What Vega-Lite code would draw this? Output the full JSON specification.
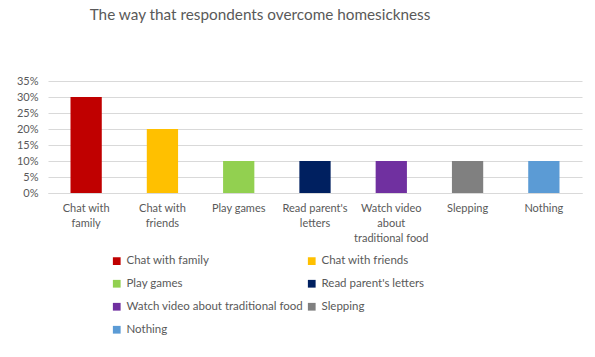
{
  "$schema": "https://vega.github.io/schema/vega-lite/v6.json",
  "autosize": "none",
  "width": 534,
  "height": 112,
  "padding": {"left": 48, "top": 81, "right": 13, "bottom": 164},
  "background": "white",
  "title": {
    "text": "The way that respondents overcome homesickness",
    "font": "Lato",
    "fontSize": 15.3,
    "fontWeight": "normal",
    "color": "#595959",
    "anchor": "middle",
    "dx": -55,
    "offset": 52
  },
  "data": {
    "values": [
      {"way": "Chat with family", "share": 0.30},
      {"way": "Chat with friends", "share": 0.20},
      {"way": "Play games", "share": 0.10},
      {"way": "Read parent's letters", "share": 0.10},
      {"way": "Watch video about traditional food", "share": 0.10},
      {"way": "Slepping", "share": 0.10},
      {"way": "Nothing", "share": 0.10}
    ]
  },
  "config": {
    "view": {"stroke": null},
    "font": "Lato"
  },
  "mark": {"type": "bar"},
  "encoding": {
    "x": {
      "field": "way",
      "type": "nominal",
      "sort": null,
      "scale": {"paddingInner": 0.59, "paddingOuter": 0.295},
      "axis": {
        "title": null,
        "labelAngle": 0,
        "labelColor": "#595959",
        "labelFontSize": 11,
        "labelFont": "Lato",
        "labelLineHeight": 15,
        "labelPadding": 9,
        "ticks": false,
        "domainColor": "#D9D9D9",
        "labelExpr": "datum.label == 'Chat with family' ? ['Chat with', 'family'] : datum.label == 'Chat with friends' ? ['Chat with', 'friends'] : datum.label == \"Read parent's letters\" ? [\"Read parent's\", 'letters'] : datum.label == 'Watch video about traditional food' ? ['Watch video', 'about', 'traditional food'] : datum.label"
      }
    },
    "y": {
      "field": "share",
      "type": "quantitative",
      "scale": {"domain": [0, 0.35]},
      "axis": {
        "title": null,
        "format": ".0%",
        "values": [0, 0.05, 0.1, 0.15, 0.2, 0.25, 0.3, 0.35],
        "domain": false,
        "ticks": false,
        "gridColor": "#D9D9D9",
        "labelColor": "#595959",
        "labelFontSize": 11,
        "labelFont": "Lato",
        "labelPadding": 10
      }
    },
    "color": {
      "field": "way",
      "type": "nominal",
      "sort": null,
      "scale": {
        "domain": ["Chat with family", "Chat with friends", "Play games", "Read parent's letters", "Watch video about traditional food", "Slepping", "Nothing"],
        "range": ["#C00000", "#FFC000", "#92D050", "#002060", "#7030A0", "#808080", "#5B9BD5"]
      },
      "legend": {
        "title": null,
        "orient": "none",
        "direction": "horizontal",
        "legendX": 63,
        "legendY": 174,
        "columns": 2,
        "columnPadding": 2,
        "rowPadding": 10,
        "symbolType": "square",
        "symbolSize": 60,
        "symbolStrokeWidth": 0,
        "labelColor": "#595959",
        "labelFontSize": 11.5,
        "labelFont": "Lato",
        "labelOffset": 4,
        "labelLimit": 300
      }
    }
  }
}
